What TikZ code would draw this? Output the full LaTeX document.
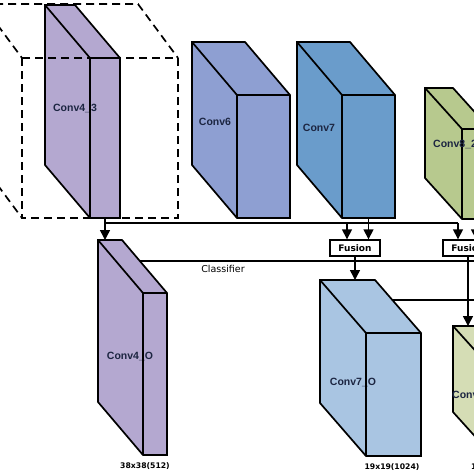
\documentclass[tikz,border=0pt]{standalone}
\usepackage{fontspec}
\usepackage{tikz}
\usetikzlibrary{arrows.meta}
\usetikzlibrary{calc}
\newfontfamily\LabelFont{Liberation Sans}
\newfontfamily\NoteFont{DejaVu Sans}
\definecolor{ConvFour}{HTML}{B4A8D0}
\definecolor{ConvSix}{HTML}{8E9FD2}
\definecolor{ConvSeven}{HTML}{6A9CCB}
\definecolor{ConvSevenO}{HTML}{A9C5E2}
\definecolor{ConvEight}{HTML}{B7C98E}
\definecolor{ConvEightO}{HTML}{D5DDB5}
\definecolor{LabelInk}{HTML}{1C2541}
\tikzset{
  block/.style={line width=1.7pt, line join=miter},
  blocklabel/.style={text=LabelInk, font=\LabelFont\bfseries\fontsize{10.5}{12}\selectfont, inner sep=0pt},
  sizelabel/.style={font=\NoteFont\bfseries\fontsize{7.7}{9}\selectfont, inner sep=0pt},
  fusionbox/.style={draw, fill=white, line width=1.4pt, minimum width=50pt, minimum height=16pt, inner sep=0pt, font=\NoteFont\bfseries\fontsize{9}{10}\selectfont},
  link/.style={line width=1.5pt},
  roi/.style={line width=1.7pt, dash pattern=on 8pt off 5pt}
}
\newcommand{\CNNBlock}[8]{
  \coordinate (#1) at #2;
  \coordinate (#1-btr) at ($(#1)+(#3,0)$);
  \coordinate (#1-bbl) at ($(#1)+(0,#4)$);
  \coordinate (#1-ftl) at ($(#1)+#5$);
  \coordinate (#1-ftr) at ($(#1-btr)+#5$);
  \coordinate (#1-fbl) at ($(#1-bbl)+#5$);
  \coordinate (#1-fbr) at ($(#1-fbl)+(#3,0)$);
  \coordinate (#1-out) at ($(#1-fbl)!.5!(#1-fbr)$);
  \filldraw[block, fill=#6] (#1) -- (#1-btr) -- (#1-ftr) -- (#1-fbr) -- (#1-fbl) -- (#1-bbl) -- cycle;
  \node[blocklabel] (#1-label) at #7 {#8};
  \draw[block] (#1) -- (#1-ftl) -- (#1-ftr);
  \draw[block] (#1-ftl) -- (#1-fbl);
}

\begin{document}
\begin{tikzpicture}[x={(1pt,0)}, y={(0,-1pt)}, >={Triangle[length=10pt,width=10pt]}]
\useasboundingbox (0,0) rectangle (474,474);
\clip (0,0) rectangle (474,474);
\coordinate (east) at (474,0);
\coordinate (bus) at (0,223);

% feature maps of the backbone
\CNNBlock{c43}{(45,5)}{30}{160}{(45,53)}{ConvFour}{(75,108)}{Conv4\_3}
\CNNBlock{c6}{(192,42)}{53}{123}{(45,53)}{ConvSix}{(215,122)}{Conv6}
\CNNBlock{c7}{(297,42)}{53}{123}{(45,53)}{ConvSeven}{(319,128)}{Conv7}
\CNNBlock{c82}{(425,88)}{28}{90}{(37,41)}{ConvEight}{(433,144)}{}
\node[blocklabel, anchor=west] (c82-name) at (433,144) {Conv8\_2};

% region around conv4_3
\draw[roi] (-18,4) -- (138,4) -- (178,58);
\draw[roi] (22,58) rectangle (178,218);
\draw[roi] (-18,4) -- (22,58);
\draw[roi] (-18,164) -- (22,218);

% output maps
\CNNBlock{c4o}{(98,240)}{24}{162}{(45,53)}{ConvFour}{(130,356)}{Conv4\_O}
\CNNBlock{c7o}{(320,280)}{55}{123}{(46,53)}{ConvSevenO}{(353,382)}{Conv7\_O}
\CNNBlock{c8o}{(453,326)}{28}{86}{(37,41)}{ConvEightO}{(452,395)}{}
\node[blocklabel, anchor=west] (c8o-name) at (452,395) {Conv8\_O};

\node[sizelabel] (c4o-size) at (145,466) {38x38(512)};
\node[sizelabel] (c7o-size) at (392,467) {19x19(1024)};
\node[sizelabel, anchor=west] (c8o-size) at (471,467) {10x10(512)};

% fusion modules
\node[fusionbox] (fus1) at (355,248) {Fusion};
\node[fusionbox] (fus2) at (468,248) {Fusion};
\coordinate (fus1-in) at ($(fus1.north)+(-8,0)$);
\coordinate (fus2-in) at ($(fus2.north)+(-10,0)$);

% connections
\draw[link, ->] (c43-out) -- (c43-out |- c4o);
\draw[link] (c43-out |- bus) -- (fus2-in |- bus);
\draw[link, ->] (fus1-in |- bus) -- (fus1-in);
\draw[link, ->] (fus2-in |- bus) -- (fus2-in);
\draw[link, ->] (c7-out) -- (c7-out |- fus1.north);
\draw[link, ->] (c82-out) -- (c82-out |- fus2.north);
\draw[link, ->] (fus1.south) -- (fus1.south |- c7o);
\draw[link, ->] (fus2.south) -- (fus2.south |- c8o);

% classifier branches
\coordinate (cls1) at ($(c4o-btr)!.4!(c4o-ftr)$);
\coordinate (cls2) at ($(c7o-btr)!.38!(c7o-ftr)$);
\draw[link] (cls1) -- (cls1 -| east);
\draw[link] (cls2) -- (cls2 -| east);
\node[font=\NoteFont\fontsize{9.5}{11}\selectfont, inner sep=0pt] (cls-label) at (223,269) {Classifier};
\end{tikzpicture}
\end{document}
